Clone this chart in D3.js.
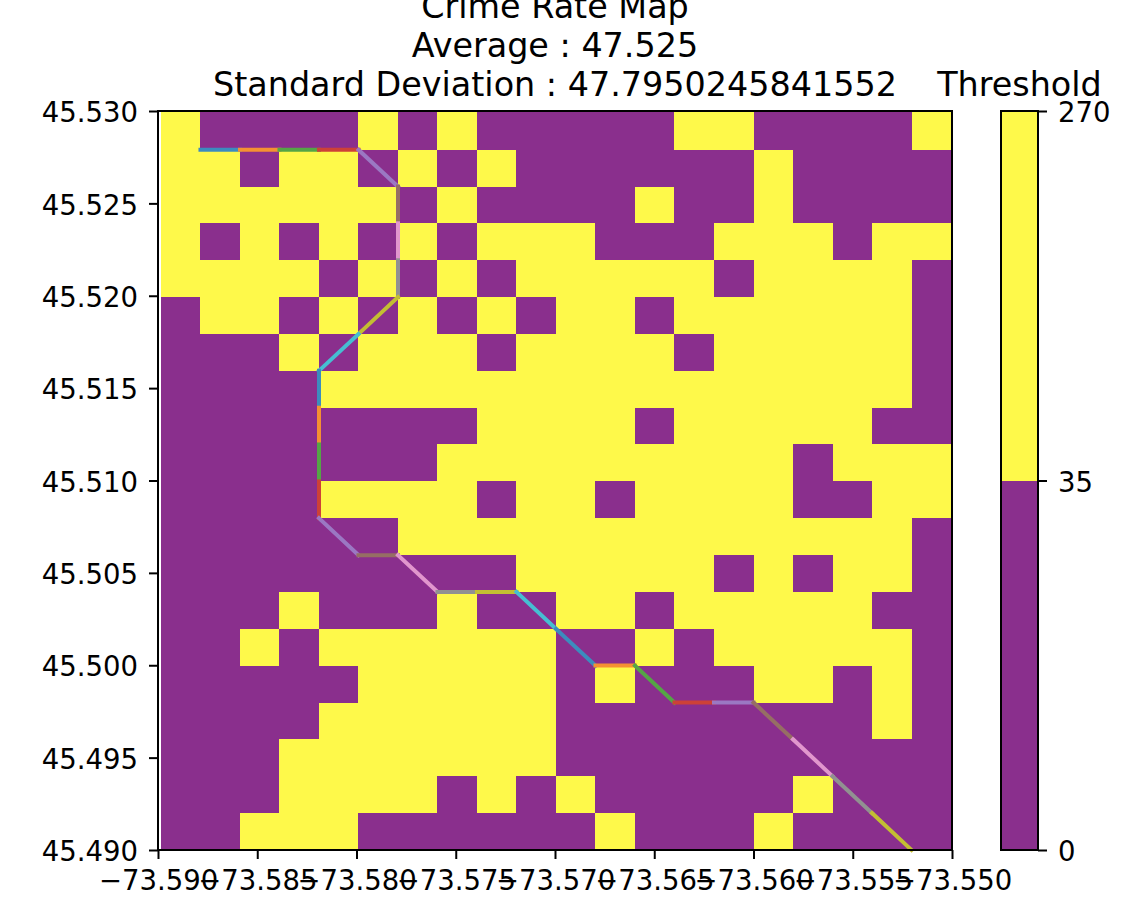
<!DOCTYPE html>
<html lang="en">

<head>
  <meta charset="UTF-8">
  <title>Crime Rate Map</title>
  <script src="https://d3js.org/d3.v7.min.js"></script>

  <style>
    body {
      margin: 0;
      background: white;
    }

    text {
      font-family: "DejaVu Sans", sans-serif;
      fill: black;
    }

    .tick line,
    .spine {
      stroke: black;
      stroke-width: 2px;
    }

    .spine {
      fill: none;
    }

    .cell {
      shape-rendering: crispEdges;
    }

    .route {
      stroke-width: 4px;
      stroke-linecap: square;
      fill: none;
    }
  </style>
</head>

<body>
  <svg id="chart" width="1148" height="916"></svg>

  <script>
    const titleLines = ["Crime Rate Map", "Average : 47.525", "Standard Deviation : 47.7950245841552"];
    const colorbarTitle = "Threshold";

    const lonTicks = [-73.59, -73.585, -73.58, -73.575, -73.57, -73.565, -73.56, -73.555, -73.55];
    const latTicks = [45.49, 45.495, 45.50, 45.505, 45.51, 45.515, 45.52, 45.525, 45.53];
    const thresholdLabels = ["0", "35", "270"];
    const thresholdColors = ["#8a2f8d", "#fef94a"];
    const routeColors = ["#3c8cbe", "#f59132", "#55a546", "#cd4137", "#9b78c3", "#966e64", "#e196cd", "#919191", "#c3be32", "#46bed2"];

    // cell edges, west to east and north to south
    const lonEdges = [-73.58985, -73.58786, -73.58587, -73.58388, -73.58189, -73.5799, -73.57791,
      -73.57592, -73.57393, -73.57194, -73.56995, -73.56796, -73.56597, -73.56398, -73.56199,
      -73.56, -73.55801, -73.55602, -73.55403, -73.55204, -73.55005];
    const latEdges = [45.53, 45.5279, 45.52591, 45.52392, 45.52192, 45.51993, 45.51793, 45.51594,
      45.51394, 45.51195, 45.50995, 45.50796, 45.50596, 45.50397, 45.50197, 45.49998, 45.49798,
      45.49599, 45.49399, 45.492, 45.49];

    // 0 = below threshold, 1 = above threshold. first row is the northern one
    const cellClasses = [
      [1, 0, 0, 0, 0, 1, 0, 1, 0, 0, 0, 0, 0, 1, 1, 0, 0, 0, 0, 1],
      [1, 1, 0, 1, 1, 0, 1, 0, 1, 0, 0, 0, 0, 0, 0, 1, 0, 0, 0, 0],
      [1, 1, 1, 1, 1, 1, 0, 1, 0, 0, 0, 0, 1, 0, 0, 1, 0, 0, 0, 0],
      [1, 0, 1, 0, 1, 0, 1, 0, 1, 1, 1, 0, 0, 0, 1, 1, 1, 0, 1, 1],
      [1, 1, 1, 1, 0, 1, 0, 1, 0, 1, 1, 1, 1, 1, 0, 1, 1, 1, 1, 0],
      [0, 1, 1, 0, 1, 0, 1, 0, 1, 0, 1, 1, 0, 1, 1, 1, 1, 1, 1, 0],
      [0, 0, 0, 1, 0, 1, 1, 1, 0, 1, 1, 1, 1, 0, 1, 1, 1, 1, 1, 0],
      [0, 0, 0, 0, 1, 1, 1, 1, 1, 1, 1, 1, 1, 1, 1, 1, 1, 1, 1, 0],
      [0, 0, 0, 0, 0, 0, 0, 0, 1, 1, 1, 1, 0, 1, 1, 1, 1, 1, 0, 0],
      [0, 0, 0, 0, 0, 0, 0, 1, 1, 1, 1, 1, 1, 1, 1, 1, 0, 1, 1, 1],
      [0, 0, 0, 0, 1, 1, 1, 1, 0, 1, 1, 0, 1, 1, 1, 1, 0, 0, 1, 1],
      [0, 0, 0, 0, 0, 0, 1, 1, 1, 1, 1, 1, 1, 1, 1, 1, 1, 1, 1, 0],
      [0, 0, 0, 0, 0, 0, 0, 0, 0, 1, 1, 1, 1, 1, 0, 1, 0, 1, 1, 0],
      [0, 0, 0, 1, 0, 0, 0, 1, 0, 0, 1, 1, 0, 1, 1, 1, 1, 1, 0, 0],
      [0, 0, 1, 0, 1, 1, 1, 1, 1, 1, 0, 0, 1, 0, 1, 1, 1, 1, 1, 0],
      [0, 0, 0, 0, 0, 1, 1, 1, 1, 1, 0, 1, 0, 0, 0, 1, 1, 0, 1, 0],
      [0, 0, 0, 0, 1, 1, 1, 1, 1, 1, 0, 0, 0, 0, 0, 0, 0, 0, 1, 0],
      [0, 0, 0, 1, 1, 1, 1, 1, 1, 1, 0, 0, 0, 0, 0, 0, 0, 0, 0, 0],
      [0, 0, 0, 1, 1, 1, 1, 0, 1, 0, 1, 0, 0, 0, 0, 0, 1, 0, 0, 0],
      [0, 0, 1, 1, 1, 0, 0, 0, 0, 0, 0, 1, 0, 0, 0, 1, 0, 0, 0, 0]
    ];

    // route vertices as indexes into lonEdges / latEdges
    const routeCols = [1, 2, 3, 4, 5, 6, 6, 6, 6, 5, 4, 4, 4, 4, 4, 5, 6, 7, 8, 9, 10, 11, 12, 13, 14, 15, 16, 17, 18, 19];
    const routeRows = [1, 1, 1, 1, 1, 2, 3, 4, 5, 6, 7, 8, 9, 10, 11, 12, 12, 13, 13, 13, 14, 15, 15, 16, 16, 16, 17, 18, 19, 20];

    const svg = d3.select("#chart");
    const margin = { top: 111, right: 196, bottom: 66, left: 158 };
    const mapWidth = 794;
    const mapHeight = 739;

    const x = d3.scaleLinear().domain([-73.59, -73.55]).range([margin.left, margin.left + mapWidth]);
    const y = d3.scaleLinear().domain([45.49, 45.53]).range([margin.top + mapHeight, margin.top]);
    const color = d3.scaleOrdinal().domain([0, 1]).range(thresholdColors);

    // grid
    const cells = cellClasses.flatMap((row, r) => row.map((c, i) => ({ r: r, i: i, c: c })));
    svg.append("g").selectAll("rect").data(cells)
      .join("rect")
      .attr("class", "cell")
      .attr("x", d => x(lonEdges[d.i]))
      .attr("y", d => y(latEdges[d.r]))
      .attr("width", d => x(lonEdges[d.i + 1]) - x(lonEdges[d.i]))
      .attr("height", d => y(latEdges[d.r + 1]) - y(latEdges[d.r]))
      .attr("fill", d => color(d.c));

    // route, one colour per segment
    const segments = d3.pairs(d3.range(routeCols.length));
    svg.append("g").selectAll("line").data(segments)
      .join("line")
      .attr("class", "route")
      .attr("x1", d => x(lonEdges[routeCols[d[0]]]))
      .attr("y1", d => y(latEdges[routeRows[d[0]]]))
      .attr("x2", d => x(lonEdges[routeCols[d[1]]]))
      .attr("y2", d => y(latEdges[routeRows[d[1]]]))
      .attr("stroke", (d, i) => routeColors[i % routeColors.length]);

    // axes
    const xAxis = d3.axisBottom(x).tickValues(lonTicks).tickFormat(d3.format(".3f")).tickSizeOuter(0).tickSize(9).tickPadding(11);
    const yAxis = d3.axisLeft(y).tickValues(latTicks).tickFormat(d3.format(".3f")).tickSizeOuter(0).tickSize(9).tickPadding(11);

    const gx = svg.append("g").attr("transform", "translate(0," + (margin.top + mapHeight) + ")").call(xAxis);
    const gy = svg.append("g").attr("transform", "translate(" + margin.left + ",0)").call(yAxis);
    gx.select(".domain").remove();
    gy.select(".domain").remove();
    gx.selectAll("text").style("font-size", "27.5px").style("font-family", "DejaVu Sans");
    gy.selectAll("text").style("font-size", "27.5px").style("font-family", "DejaVu Sans").attr("dy", "0.39em");

    svg.append("rect")
      .attr("class", "spine")
      .attr("x", margin.left)
      .attr("y", margin.top)
      .attr("width", mapWidth)
      .attr("height", mapHeight);

    // colorbar, equal spacing per threshold band
    const cbarX = 1001;
    const cbarWidth = 37;
    const cbarY = d3.scalePoint().domain(thresholdLabels).range([margin.top + mapHeight, margin.top]);

    svg.append("g").selectAll("rect").data(d3.pairs(thresholdLabels))
      .join("rect")
      .attr("class", "cell")
      .attr("x", cbarX)
      .attr("y", d => cbarY(d[1]))
      .attr("width", cbarWidth)
      .attr("height", d => cbarY(d[0]) - cbarY(d[1]))
      .attr("fill", (d, i) => thresholdColors[i]);

    const cbarAxis = d3.axisRight(cbarY).tickSizeOuter(0).tickSize(9).tickPadding(11);
    const gc = svg.append("g").attr("transform", "translate(" + (cbarX + cbarWidth) + ",0)").call(cbarAxis);
    gc.select(".domain").remove();
    gc.selectAll("text").style("font-size", "27.5px").style("font-family", "DejaVu Sans").attr("dy", "0.39em");

    svg.append("rect")
      .attr("class", "spine")
      .attr("x", cbarX)
      .attr("y", margin.top)
      .attr("width", cbarWidth)
      .attr("height", mapHeight);

    // titles
    svg.append("g").selectAll("text").data(titleLines)
      .join("text")
      .attr("x", margin.left + mapWidth / 2)
      .attr("y", (d, i) => 18.2 + i * 38.8)
      .attr("text-anchor", "middle")
      .style("font-size", "33.4px")
      .text(d => d);

    svg.append("text")
      .attr("x", cbarX + cbarWidth / 2)
      .attr("y", 95.8)
      .attr("text-anchor", "middle")
      .style("font-size", "33.4px")
      .text(colorbarTitle);
  </script>
</body>

</html>
